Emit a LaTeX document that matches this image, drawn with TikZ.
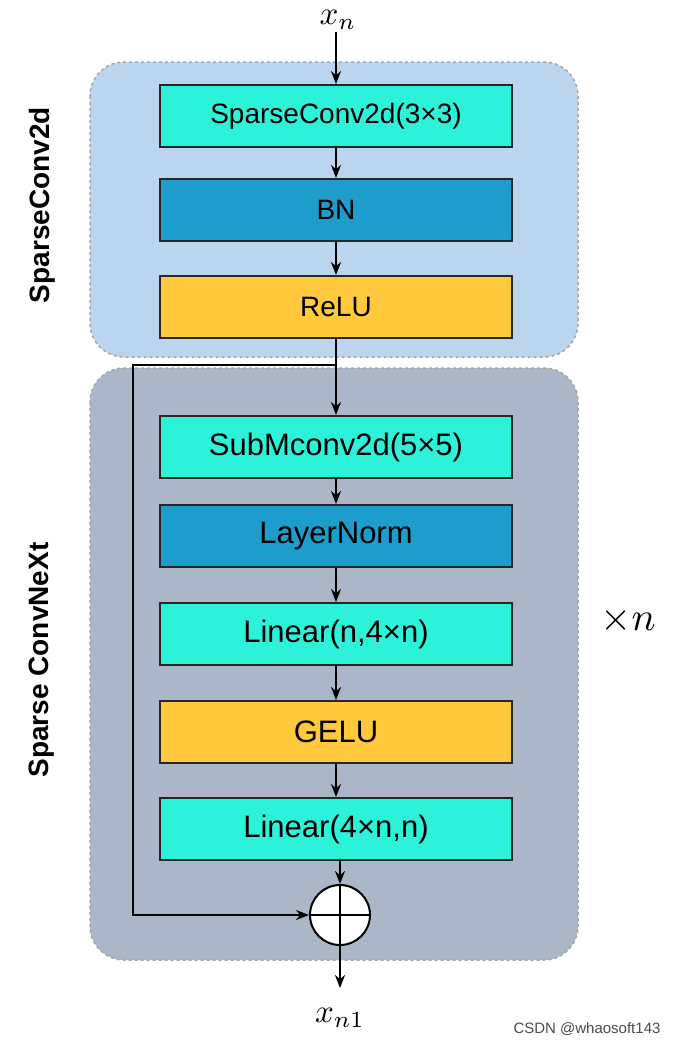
\documentclass[tikz,border=0pt]{standalone}
\usepackage{fontspec}
\setmainfont{Liberation Sans}
\usetikzlibrary{arrows.meta}
\definecolor{cya}{HTML}{2CF2DA}
\definecolor{blu}{HTML}{1C9DCC}
\definecolor{yel}{HTML}{FFC83D}
\definecolor{topbg}{HTML}{BCD5EE}
\definecolor{botbg}{HTML}{ABB7C9}
\begin{document}
\begin{tikzpicture}[x=1pt,y=-1pt,
  blk/.style={draw=black!85,line width=2pt,minimum width=352pt,minimum height=62pt,font=\fontsize{28}{30}\selectfont},
  grp/.style={draw=black!35,dashed,line width=1.5pt,rounded corners=34pt},
  arr/.style={-{Stealth[length=13pt,width=10pt]},line width=2pt}]
\useasboundingbox (0,0) rectangle (678,1047);
\fill[white] (0,0) rectangle (678,1047);
% groups
\draw[grp,fill=topbg] (90,62) rectangle (578,357);
\draw[grp,fill=botbg] (90,368) rectangle (578,960);
\node[rotate=90,font=\bfseries\fontsize{28}{30}\selectfont] (g1) at (42,205) {SparseConv2d};
\node[rotate=90,font=\bfseries\fontsize{28}{30}\selectfont] (g2) at (42,660) {Sparse ConvNeXt};
% blocks
\node[blk,fill=cya] (b1) at (336,116) {SparseConv2d(3×3)};
\node[blk,fill=blu] (b2) at (336,210) {BN};
\node[blk,fill=yel] (b3) at (336,307) {ReLU};
\node[blk,fill=cya,font=\fontsize{31}{33}\selectfont] (b4) at (336,447) {SubMconv2d(5×5)};
\node[blk,fill=blu,font=\fontsize{31}{33}\selectfont] (b5) at (336,536) {LayerNorm};
\node[blk,fill=cya,font=\fontsize{31}{33}\selectfont] (b6) at (336,634) {Linear(n,4×n)};
\node[blk,fill=yel,font=\fontsize{31}{33}\selectfont] (b7) at (336,732) {GELU};
\node[blk,fill=cya,font=\fontsize{31}{33}\selectfont] (b8) at (336,829) {Linear(4×n,n)};
\node[circle,draw,fill=white,line width=2pt,minimum size=60pt] (sum) at (340,915) {};
\draw[line width=2pt] (sum.north)--(sum.south) (sum.west)--(sum.east);
% io
\node[scale=3.3,inner sep=0.5pt] (xin) at (338,20) {$x_n$};
\node[scale=3.3] (xout) at (340,1018) {$x_{n1}$};
\node[scale=4] (times) at (628,620) {$\times n$};
\node[font=\fontsize{15}{17}\selectfont,text=black!70,anchor=east] (wm) at (664,1029) {CSDN @whaosoft143};
% arrows
\draw[arr] (xin.south-|b1) -- (b1);
\draw[arr] (b1) -- (b2);
\draw[arr] (b2) -- (b3);
\draw[arr] (b3) -- (b4);
\draw[arr] (b4) -- (b5);
\draw[arr] (b5) -- (b6);
\draw[arr] (b6) -- (b7);
\draw[arr] (b7) -- (b8);
\draw[arr] (b8.south-|sum) -- (sum);
\draw[arr] (sum) -- (340,988);
\coordinate (split) at (337,365);
\draw[arr] (split) -- (133,365) -- (133,915) -- (sum.west);
\end{tikzpicture}
\end{document}
